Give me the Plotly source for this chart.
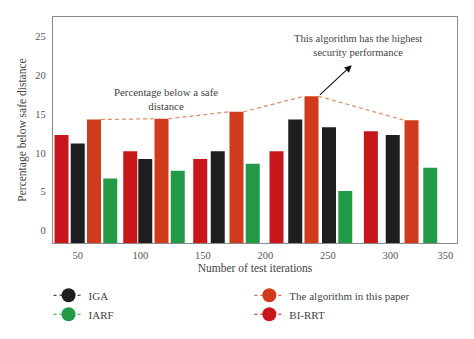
import plotly.graph_objects as go

# ---- data ----
bi_rrt_x = [37, 92, 148, 209, 284.5]
bi_rrt_y = [12.3, 10.2, 9.2, 10.2, 12.8]

iga_x = [50, 104, 162, 224, 251, 302]
iga_y = [11.2, 9.2, 10.2, 14.3, 13.3, 12.3]

alg_x = [63, 117, 177, 237, 317]
alg_y = [14.3, 14.4, 15.3, 17.3, 14.2]

iarf_x = [76, 130, 190, 264, 332]
iarf_y = [6.7, 7.7, 8.6, 5.1, 8.1]

x_tick_vals = [50, 100, 150, 200, 250, 300, 344]
x_tick_text = ["50", "100", "150", "200", "250", "300", "350"]
y_tick_vals = [0, 5, 10, 15, 20, 25]

# ---- styles ----
C_RED = "#c8161b"
C_BLACK = "#1e1e1e"
C_ORANGE = "#d03b1d"
C_GREEN = "#229a48"
FONT = "Liberation Serif"
Y_MIN, Y_MAX = -1.6, 27.5
BAR_W = 11.2

fig = go.Figure()


def add_bars(xs, ys, color):
    fig.add_trace(go.Bar(
        x=xs, y=[v - Y_MIN for v in ys], base=Y_MIN, width=BAR_W,
        marker=dict(color=color, line=dict(width=0)), showlegend=False,
        hoverinfo="skip"))


add_bars(bi_rrt_x, bi_rrt_y, C_RED)
add_bars(iga_x, iga_y, C_BLACK)
add_bars(alg_x, alg_y, C_ORANGE)
add_bars(iarf_x, iarf_y, C_GREEN)

# dashed line linking the tops of the proposed algorithm's bars
lx, ly = [], []
for i in range(len(alg_x) - 1):
    lx += [alg_x[i] + BAR_W / 2, alg_x[i + 1] - BAR_W / 2, None]
    ly += [alg_y[i], alg_y[i + 1], None]
fig.add_trace(go.Scatter(x=lx, y=ly, mode="lines", showlegend=False,
                         line=dict(color="#e08a66", width=1.2, dash="4px,3px"),
                         hoverinfo="skip"))

# legend entries
def add_legend(name, color, legend):
    fig.add_trace(go.Scatter(
        x=[None], y=[None], mode="lines+markers", name=name, legend=legend,
        line=dict(color=color, width=1, dash="3px,3px"),
        marker=dict(color=color, size=14, symbol="circle")))


add_legend("IGA", C_BLACK, "legend")
add_legend("IARF", C_GREEN, "legend")
add_legend("The algorithm in this paper", C_ORANGE, "legend2")
add_legend("BI-RRT", C_RED, "legend2")

legend_common = dict(orientation="v", yanchor="top", xanchor="left",
                     font=dict(family=FONT, size=11, color="#444"),
                     bgcolor="rgba(0,0,0,0)", itemsizing="trace",
                     tracegroupgap=0)

fig.update_layout(
    width=474, height=339,
    margin=dict(l=53, r=17, t=17, b=96, autoexpand=False),
    paper_bgcolor="white", plot_bgcolor="white",
    font=dict(family=FONT, color="#444"),
    barmode="overlay",
    legend=dict(x=-0.011, y=-0.167, **legend_common),
    legend2=dict(x=0.486, y=-0.167, **legend_common),
    xaxis=dict(range=[30.2, 353.4], tickvals=x_tick_vals, ticktext=x_tick_text,
               showgrid=False, zeroline=False, showline=True, mirror=True,
               linecolor="#8a8a8a", linewidth=1.3, ticks="",
               ticklabelstandoff=2,
               tickfont=dict(family=FONT, size=10.5, color="#555"),
               title=dict(text="Number of test iterations", standoff=4,
                          font=dict(family=FONT, size=11.5, color="#444"))),
    yaxis=dict(range=[Y_MIN, Y_MAX], tickvals=y_tick_vals,
               showgrid=False, zeroline=False, showline=True, mirror=True,
               linecolor="#8a8a8a", linewidth=1.3, ticks="",
               ticklabelstandoff=4,
               tickfont=dict(family=FONT, size=10.5, color="#555"),
               title=dict(text="Percentage below safe distance", standoff=6,
                          font=dict(family=FONT, size=11.5, color="#444"))),
    annotations=[
        dict(x=120.4, y=16.9, xref="x", yref="y", showarrow=False,
             text="Percentage below a safe<br>distance",
             font=dict(family=FONT, size=10.8, color="#444")),
        dict(x=274.5, y=23.8, xref="x", yref="y", showarrow=False,
             text="This algorithm has the highest<br>security performance",
             font=dict(family=FONT, size=10.6, color="#444")),
        dict(x=269.2, y=21.3, ax=242.5, ay=17.3, xref="x", yref="y",
             axref="x", ayref="y", text="", showarrow=True,
             arrowhead=2, arrowsize=1.3, arrowwidth=1.1, arrowcolor="#111"),
    ],
)

fig.write_html("out.html")
